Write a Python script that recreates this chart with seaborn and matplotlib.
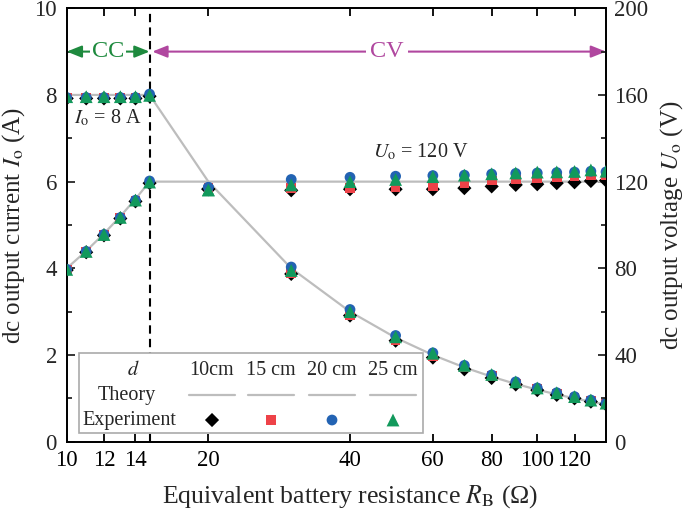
import matplotlib
matplotlib.use("Agg")
import matplotlib.pyplot as plt
import matplotlib.patches as mpatches
from matplotlib.ticker import FixedLocator, FixedFormatter, NullLocator, MultipleLocator
import numpy as np
import pandas as pd
import seaborn as sns

# ---------------- data ----------------
R = [10, 11, 12, 13, 14, 15, 20, 30, 40, 50, 60, 70, 80, 90, 100, 110, 120, 130, 140]

theory_I = [8, 8, 8, 8, 8, 8, 6, 4, 3, 2.4, 2, 1.714, 1.5, 1.333, 1.2, 1.091, 1.0, 0.923, 0.857]
theory_U = [80, 88, 96, 104, 112, 120, 120, 120, 120, 120, 120, 120, 120, 120, 120, 120, 120, 120, 120]

I_10cm = [7.92, 7.92, 7.92, 7.92, 7.92, 7.97, 5.83, 3.87, 2.91, 2.33, 1.94, 1.67, 1.47, 1.32, 1.19, 1.08, 1.00, 0.925, 0.86]
I_15cm = [7.93, 7.93, 7.93, 7.93, 7.93, 7.98, 5.86, 3.90, 2.93, 2.35, 1.97, 1.71, 1.51, 1.34, 1.22, 1.11, 1.02, 0.946, 0.88]
I_20cm = [7.94, 7.94, 7.94, 7.94, 7.94, 8.02, 5.87, 4.03, 3.05, 2.45, 2.05, 1.76, 1.54, 1.38, 1.24, 1.13, 1.04, 0.96, 0.89]
I_25cm = [7.96, 7.96, 7.96, 7.96, 7.96, 7.99, 5.81, 3.95, 3.00, 2.42, 2.04, 1.76, 1.55, 1.38, 1.24, 1.13, 1.04, 0.96, 0.89]

U_10cm = [79.2, 87.4, 95.2, 103.0, 110.9, 119.3, 116.5, 116.0, 116.5, 116.5, 116.5, 117.0, 117.8, 118.5, 118.8, 119.3, 119.7, 120.3, 120.5]
U_15cm = [79.4, 87.6, 95.4, 103.2, 111.1, 119.6, 117.0, 117.0, 117.0, 117.5, 118.0, 119.5, 120.5, 121.0, 121.5, 122.0, 122.5, 123.0, 123.0]
U_20cm = [79.5, 87.8, 95.6, 103.4, 111.4, 120.3, 117.4, 121.0, 122.0, 122.5, 122.8, 123.0, 123.5, 123.8, 124.0, 124.2, 124.4, 124.8, 124.5]
U_25cm = [79.5, 87.8, 95.6, 103.5, 111.5, 119.8, 116.2, 118.5, 120.0, 121.0, 122.3, 123.0, 123.6, 124.0, 124.4, 124.5, 124.7, 125.4, 124.8]

distances = ["10cm", "15 cm", "20 cm", "25 cm"]
xticks = [10, 12, 14, 20, 40, 60, 80, 100, 120]
xticklabels = ["10", "12", "14", "20", "40", "60", "80", "100", "120"]

# ---------------- style ----------------
sns.set_theme(style="ticks")
plt.rcParams["font.family"] = ["Liberation Serif", "DejaVu Serif"]
plt.rcParams["mathtext.fontset"] = "stix"
plt.rcParams["axes.linewidth"] = 1.3

colors = ["#000000", "#EE4248", "#2363B3", "#12995C"]
markers = ["D", "s", "o", "^"]
sizes = [52, 49, 60, 85]
gray = "#BDBDBD"
cc_color = "#1E8A3E"
cv_color = "#B0479F"

fig = plt.figure(figsize=(6.85, 5.16), dpi=100)
ax = fig.add_axes([0.0974, 0.144, 0.7873, 0.840])
ax2 = ax.twinx()

ax.set_xscale("log")
ax.set_xlim(10, 140)
ax.set_ylim(0, 10)
ax2.set_ylim(0, 200)

# dashed boundary line
ax.axvline(15, color="black", lw=1.5, dashes=(4, 2.5), zorder=1)

# theory lines
th = pd.DataFrame({"R": R, "I": theory_I, "U": theory_U})
sns.lineplot(data=th, x="R", y="I", ax=ax, color=gray, lw=1.6, zorder=2)
sns.lineplot(data=th, x="R", y="U", ax=ax2, color=gray, lw=1.6, zorder=2)

I_series = [I_10cm, I_15cm, I_20cm, I_25cm]
U_series = [U_10cm, U_15cm, U_20cm, U_25cm]
for k in range(4):
    df = pd.DataFrame({"R": R, "I": I_series[k], "U": U_series[k]})
    sns.scatterplot(data=df, x="R", y="I", ax=ax, color=colors[k], marker=markers[k],
                    s=sizes[k], edgecolor="none", zorder=3 + k, clip_on=True)
    sns.scatterplot(data=df, x="R", y="U", ax=ax2, color=colors[k], marker=markers[k],
                    s=sizes[k], edgecolor="none", zorder=3 + k, clip_on=True)

# ticks
ax.xaxis.set_major_locator(FixedLocator(xticks))
ax.xaxis.set_major_formatter(FixedFormatter(xticklabels))
ax.xaxis.set_minor_locator(NullLocator())
ax.yaxis.set_major_locator(MultipleLocator(2))
ax.yaxis.set_minor_locator(MultipleLocator(1))
ax2.yaxis.set_major_locator(MultipleLocator(40))
ax2.yaxis.set_minor_locator(MultipleLocator(20))

ax.tick_params(axis="x", which="major", direction="in", top=True, bottom=True,
               length=6, width=1.3, labelsize=16.5, pad=6, colors="black")
ax.tick_params(axis="y", which="major", direction="in", left=True, right=False,
               length=6, width=1.3, labelsize=16.5, pad=7)
ax.tick_params(axis="y", which="minor", direction="in", left=True, right=False,
               length=3.5, width=1.3)
ax2.tick_params(axis="y", which="major", direction="in", right=True,
                length=6, width=1.3, labelsize=16.5, pad=6)
ax2.tick_params(axis="y", which="minor", direction="in", right=True,
                length=3.5, width=1.3)

ax.set_xlabel(r"Equivalent battery resistance $R_\mathrm{B}$ (Ω)", fontsize=18.5, labelpad=9)
ax.xaxis.label.set_x(0.526)
ax.set_ylabel(r"dc output current $I_\mathrm{o}$ (A)", fontsize=18, labelpad=5)
ax2.set_ylabel(r"dc output voltage $U_\mathrm{o}$ (V)", fontsize=18, labelpad=7)

# CC / CV annotations
ax.annotate("", xy=(10, 9), xytext=(15, 9),
            arrowprops=dict(arrowstyle="<|-|>,head_length=0.75,head_width=0.3",
                            color=cc_color, lw=1.5, shrinkA=0, shrinkB=0), zorder=8)
ax.text(0.0766, 9, "CC", transform=ax.get_yaxis_transform(), color=cc_color,
        fontsize=17.5, ha="center", va="center",
        bbox=dict(fc="white", ec="none", pad=1), zorder=9)
ax.annotate("", xy=(15.2, 9), xytext=(140, 9),
            arrowprops=dict(arrowstyle="<|-|>,head_length=0.75,head_width=0.3",
                            color=cv_color, lw=1.5, shrinkA=0, shrinkB=0),
            annotation_clip=False, zorder=8)
ax.text(0.5934, 9, "CV", transform=ax.get_yaxis_transform(), color=cv_color,
        fontsize=17.5, ha="center", va="center",
        bbox=dict(fc="white", ec="none", pad=3), zorder=9)

ax.text(0.0136, 0.747, r"$I_\mathrm{o}$ = 8 A", transform=ax.transAxes,
        fontsize=14.5, ha="left", va="center")
ax2.text(0.568, 0.669, r"$U_\mathrm{o}$ = 120 V", transform=ax2.transAxes,
         fontsize=14.5, ha="left", va="center")

# table-like legend
tA = ax2.transAxes
ax2.add_patch(mpatches.Rectangle((0.0228, 0.0201), 0.638, 0.1846, transform=tA,
                                 fc="white", ec="#AAAAAA", lw=1.2, zorder=20))
row_y = [0.1654, 0.1077, 0.0500]
col_x = [0.2694, 0.3788, 0.4919, 0.6050]
ax2.text(0.123, row_y[0], r"$d$", transform=tA, fontsize=14.5, ha="center", va="center", zorder=21)
ax2.text(0.1118, row_y[1], "Theory", transform=tA, fontsize=14.5, ha="center", va="center", zorder=21)
ax2.text(0.1155, row_y[2], "Experiment", transform=tA, fontsize=14.5, ha="center", va="center", zorder=21)
for k in range(4):
    ax2.text(col_x[k], row_y[0], distances[k], transform=tA, fontsize=14.5,
             ha="center", va="center", zorder=21)
    ax2.plot([col_x[k] - 0.0426, col_x[k] + 0.0426], [row_y[1], row_y[1]], transform=tA,
             color=gray, lw=1.6, zorder=21, clip_on=False)
    ax2.scatter([col_x[k]], [row_y[2]], transform=tA, color=colors[k], marker=markers[k],
                s=sizes[k], edgecolor="none", zorder=22, clip_on=False)

for a in (ax, ax2):
    for sp in a.spines.values():
        sp.set_linewidth(1.3)
        sp.set_color("black")

fig.savefig("out.png", dpi=100)
